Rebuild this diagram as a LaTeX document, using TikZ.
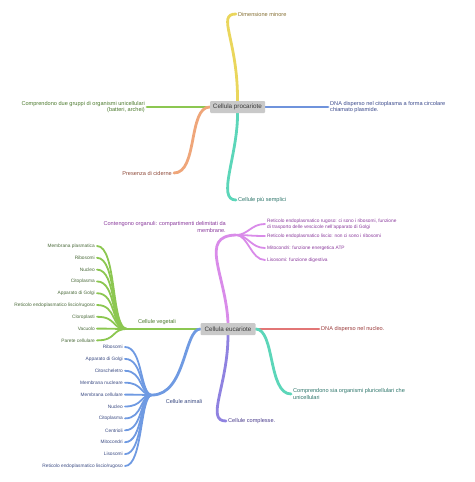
\documentclass[tikz,border=0pt]{standalone}
\usepackage{fontspec}
\setmainfont{Liberation Sans}
\usetikzlibrary{backgrounds}

\definecolor{grigio}{HTML}{C9C9C9}
\definecolor{testoradice}{HTML}{3A3A3A}
\definecolor{giallo}{HTML}{EAD65C}
\definecolor{blu}{HTML}{6F93DC}
\definecolor{verde}{HTML}{8CC751}
\definecolor{arancio}{HTML}{EFA67A}
\definecolor{acqua}{HTML}{5CD6B9}
\definecolor{rosa}{HTML}{D98BE9}
\definecolor{rosso}{HTML}{E27676}
\definecolor{viola}{HTML}{8F82E0}
\definecolor{blu2}{HTML}{6F9AE2}
\definecolor{tgiallo}{HTML}{857034}
\definecolor{tblu}{HTML}{3B4A8C}
\definecolor{tverde}{HTML}{4C7A2E}
\definecolor{tarancio}{HTML}{8E4A3A}
\definecolor{tacqua}{HTML}{2D756A}
\definecolor{trosa}{HTML}{8A3A9C}
\definecolor{trosso}{HTML}{9A3A3A}
\definecolor{tviola}{HTML}{4A3C8C}
\definecolor{tverde2}{HTML}{4A6A3A}
\definecolor{tblu2}{HTML}{3A4A82}

\begin{document}
\begin{tikzpicture}[x=1pt, y=-1pt,
    radice/.style={fill=grigio, rounded corners=1pt, minimum width=55pt, minimum height=12pt, inner sep=1pt, text=testoradice, font=\fontsize{6.3}{7.5}\selectfont},
    foglia/.style={inner sep=2pt, font=\fontsize{5.6}{6.8}\selectfont},
    fogliola/.style={inner sep=2pt, font=\fontsize{4.8}{5.8}\selectfont},
    ramo/.style={line width=2.8pt, line cap=round},
    rametto/.style={line width=1.8pt, line cap=round}]
    \useasboundingbox (0,0) rectangle (474,482);

    % Cellula procariote
    \node[radice] (proc) at (237.5,107) {Cellula procariote};
    \node[foglia, anchor=west, text=tgiallo] (dim) at (236,14) {Dimensione minore};
    \node[foglia, anchor=west, align=left, text=tblu] (dnap) at (328,107) {DNA disperso nel citoplasma a forma circolare\\chiamato plasmide.};
    \node[foglia, anchor=east, align=right, text=tverde] (grp) at (147,107) {Comprendono due gruppi di organismi unicellulari\\(batteri, archei)};
    \node[foglia, anchor=east, text=tarancio] (cid) at (174,173) {Presenza di ciderne};
    \node[foglia, anchor=west, text=tacqua] (semp) at (236,200) {Cellule più semplici};

    \begin{scope}[on background layer]
        \draw[ramo, giallo] (proc.north) .. controls (238,40) and (216,14) .. (dim.west);
        \draw[ramo, blu] (proc.east) -- (dnap.west);
        \draw[ramo, verde] (proc.west) -- (grp.east);
        \draw[ramo, arancio] (proc.west) .. controls (188,107) and (198,173) .. (cid.east);
        \draw[ramo, acqua] (proc.south) .. controls (238,155) and (216,200) .. (semp.west);
    \end{scope}

    % Cellula eucariote
    \node[radice] (euc) at (228,329) {Cellula eucariote};
    \node[foglia, anchor=west, text=trosso] (dnae) at (319,329) {DNA disperso nel nucleo.};
    \node[foglia, anchor=west, align=left, text=tacqua] (pluri) at (291,394) {Comprendono sia organismi pluricellulari che\\unicellulari};
    \node[foglia, anchor=west, text=tviola] (compl) at (226,421) {Cellule complesse.};
    \node[foglia, anchor=east, align=right, text=trosa] (org) at (228,227) {Contengono organuli: compartimenti delimitati da\\membrane.};
    \node[foglia, text=tverde] (veg) at (157,322) {Cellule vegetali};
    \node[foglia, text=tblu2] (anim) at (184,401) {Cellule animali};
    \coordinate (jo) at (236,235);
    \coordinate (jv) at (127,329);
    \coordinate (jb) at (152,395);

    % organuli
    \foreach \t [count=\i] in {{Reticolo endoplasmatico rugoso: ci sono i ribosomi, funzione\\di trasporto delle vescicole nell'apparato di Golgi}, {Reticolo endoplasmatico liscio: non ci sono i ribosomi}, {Mitocondri: funzione energetica ATP}, {Lisosomi: funzione digestiva}}
        \node[fogliola, anchor=west, align=left, text=trosa] (o\i) at (265, 212+12*\i) {\t};

    % cellule vegetali
    \foreach \t [count=\i] in {Membrana plasmatica, Ribosomi, Nucleo, Citoplasma, Apparato di Golgi, Reticolo endoplasmatico liscio/rugoso, Cloroplasti, Vacuolo, Parete cellulare}
        \node[fogliola, anchor=east, text=tverde2] (v\i) at (97, 234.2+11.8*\i) {\t};

    % cellule animali
    \foreach \t [count=\i] in {Ribosomi, Apparato di Golgi, Citoscheletro, Membrana nucleare, Membrana cellulare, Nucleo, Citoplasma, Centrioli, Mitocondri, Lisosomi, Reticolo endoplasmatico liscio/rugoso}
        \node[fogliola, anchor=east, text=tblu2] (a\i) at (125, 335.1+11.9*\i) {\t};

    \begin{scope}[on background layer]
        \draw[ramo, rosso] (euc.east) -- (dnae.west);
        \draw[ramo, acqua] (euc.east) .. controls (275,329) and (268,394) .. (pluri.west);
        \draw[ramo, viola] (euc.south) .. controls (228,385) and (205,421) .. (compl.west);
        \draw[ramo, rosa] (euc.north) .. controls (226,275) and (198,236) .. (jo);
        \draw[ramo, verde] (euc.west) -- (jv);
        \draw[ramo, blu2] (euc.west) .. controls (184,329) and (186,395) .. (jb);
        \foreach \i in {1,...,4}
            \draw[rametto, rosa] (jo) .. controls +(12,0) and +(-14,0) .. (o\i.west);
        \foreach \i in {1,...,9}
            \draw[rametto, verde] (jv) .. controls +(-16,0) and +(20,0) .. (v\i.east);
        \foreach \i in {1,...,11}
            \draw[rametto, blu2] (jb) .. controls +(-12,0) and +(18,0) .. (a\i.east);
    \end{scope}
\end{tikzpicture}
\end{document}
